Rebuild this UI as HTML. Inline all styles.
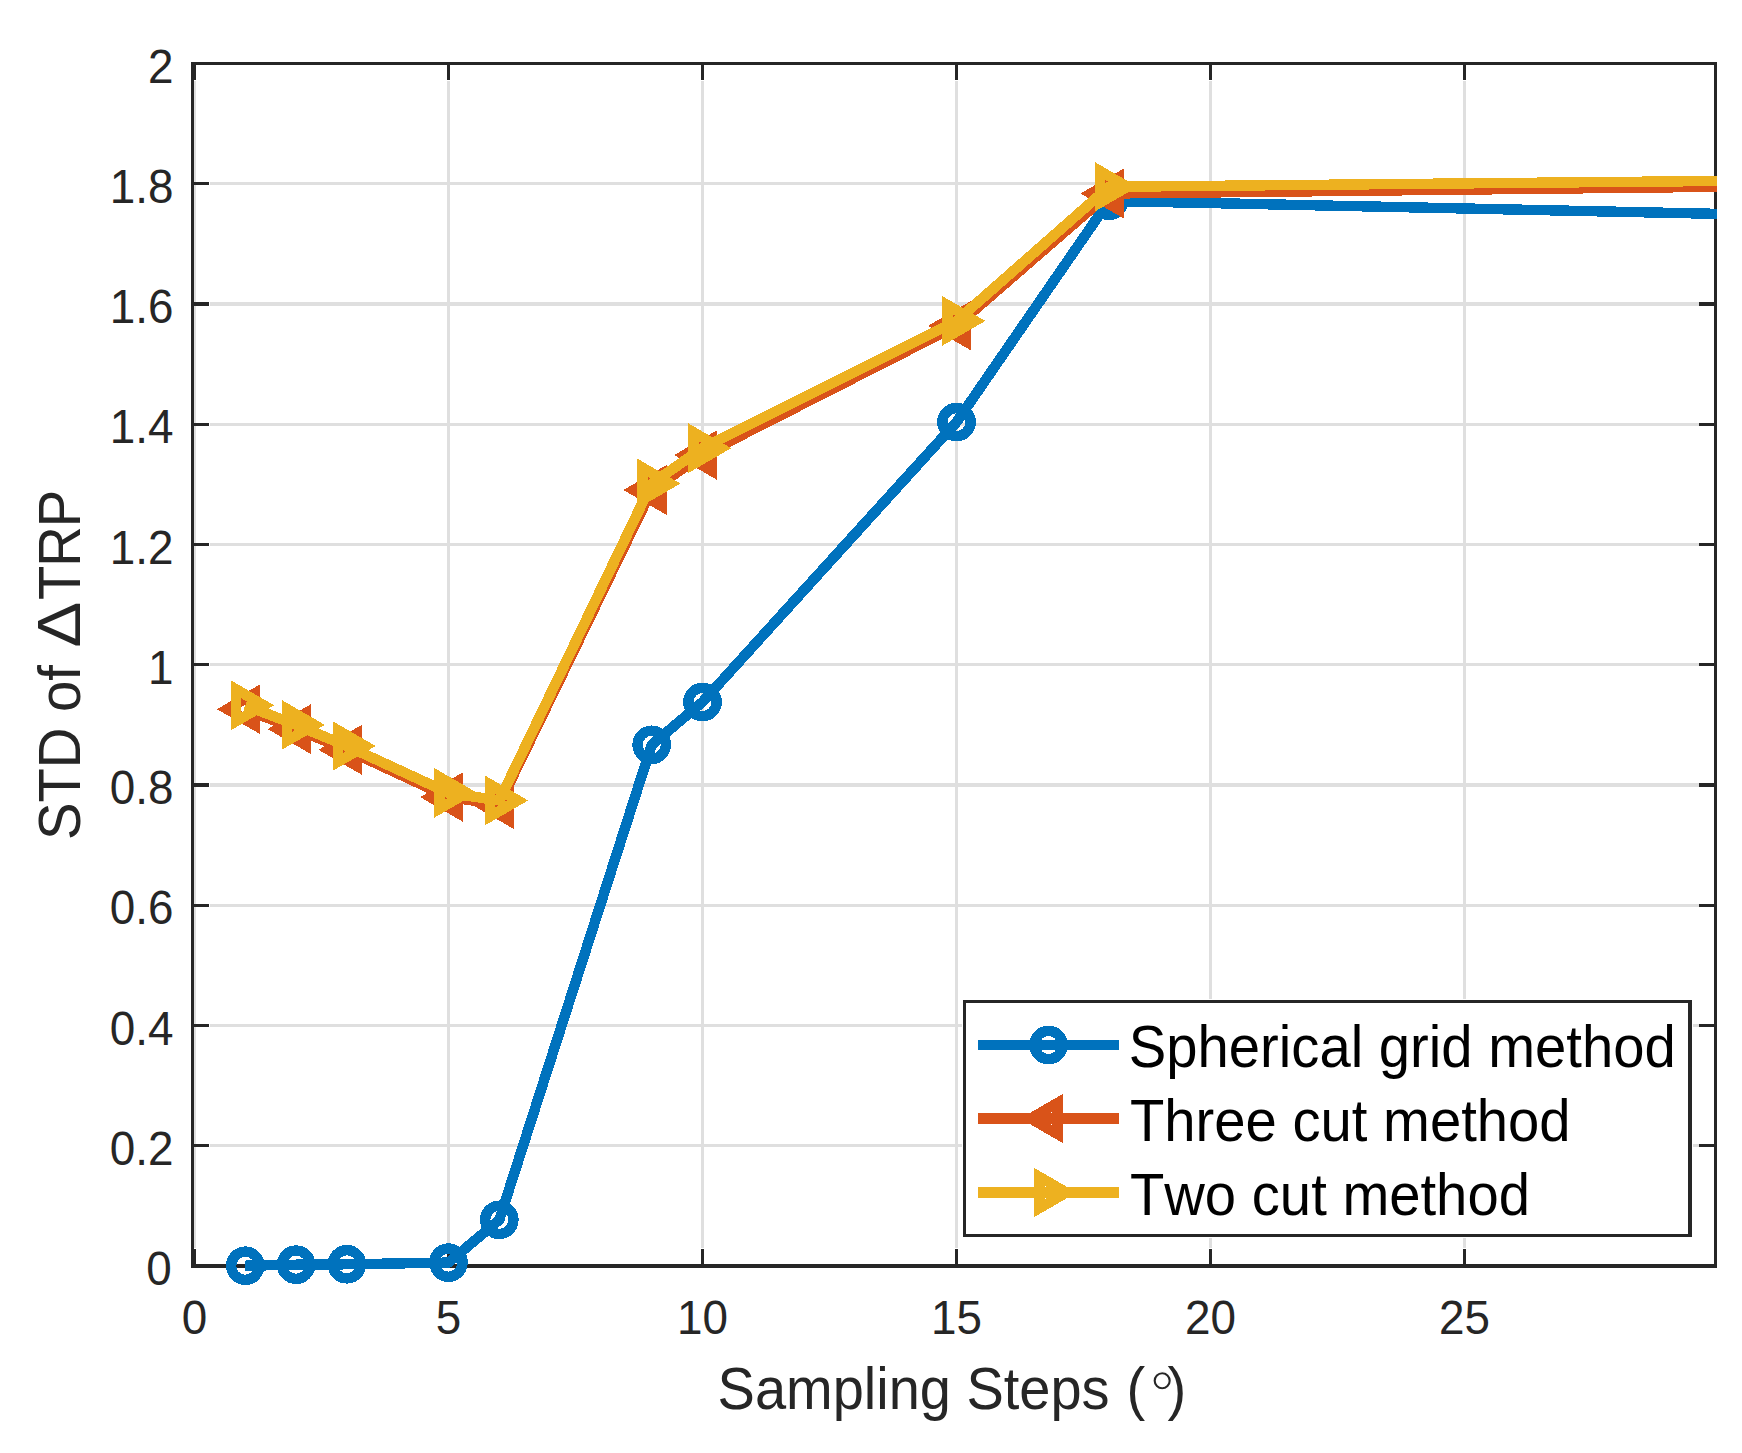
<!DOCTYPE html>
<html lang="en"><head><meta charset="utf-8"><title>STD of ΔTRP vs Sampling Steps</title>
<style>html,body{margin:0;padding:0;background:#fff}body{width:1742px;height:1453px;overflow:hidden}svg{display:block}text{font-family:"Liberation Sans",sans-serif;font-kerning:none}</style></head><body>
<svg width="1742" height="1453" viewBox="0 0 1742 1453">
<rect x="0" y="0" width="1742" height="1453" fill="#ffffff"/>
<defs><clipPath id="cp"><rect x="191" y="62" width="1526" height="1210"/></clipPath></defs>
<g fill="#dfdfdf" shape-rendering="crispEdges"><rect x="193" y="81" width="3" height="1167"/><rect x="447" y="81" width="3" height="1167"/><rect x="701" y="81" width="3" height="1167"/><rect x="955" y="81" width="3" height="1167"/><rect x="1209" y="81" width="3" height="1167"/><rect x="1463" y="81" width="3" height="1167"/><rect x="210" y="1144" width="1489" height="3"/><rect x="210" y="1024" width="1489" height="3"/><rect x="210" y="904" width="1489" height="3"/><rect x="210" y="783" width="1489" height="4"/><rect x="210" y="663" width="1489" height="3"/><rect x="210" y="543" width="1489" height="3"/><rect x="210" y="423" width="1489" height="3"/><rect x="210" y="302" width="1489" height="4"/><rect x="210" y="182" width="1489" height="3"/></g>
<g fill="#262626" shape-rendering="crispEdges"><rect x="193" y="65" width="3" height="15"/><rect x="193" y="1249" width="3" height="15"/><rect x="447" y="65" width="3" height="15"/><rect x="447" y="1249" width="3" height="15"/><rect x="701" y="65" width="3" height="15"/><rect x="701" y="1249" width="3" height="15"/><rect x="955" y="65" width="3" height="15"/><rect x="955" y="1249" width="3" height="15"/><rect x="1209" y="65" width="3" height="15"/><rect x="1209" y="1249" width="3" height="15"/><rect x="1463" y="65" width="3" height="15"/><rect x="1463" y="1249" width="3" height="15"/><rect x="194" y="1144" width="15" height="3"/><rect x="1699" y="1144" width="15" height="3"/><rect x="194" y="1024" width="15" height="3"/><rect x="1699" y="1024" width="15" height="3"/><rect x="194" y="904" width="15" height="3"/><rect x="1699" y="904" width="15" height="3"/><rect x="194" y="783" width="15" height="4"/><rect x="1699" y="783" width="15" height="4"/><rect x="194" y="663" width="15" height="3"/><rect x="1699" y="663" width="15" height="3"/><rect x="194" y="543" width="15" height="3"/><rect x="1699" y="543" width="15" height="3"/><rect x="194" y="423" width="15" height="3"/><rect x="1699" y="423" width="15" height="3"/><rect x="194" y="302" width="15" height="4"/><rect x="1699" y="302" width="15" height="4"/><rect x="194" y="182" width="15" height="3"/><rect x="1699" y="182" width="15" height="3"/><rect x="191" y="62" width="3" height="1206"/><rect x="1714" y="62" width="3" height="1206"/><rect x="191" y="62" width="1526" height="3"/><rect x="191" y="1264" width="1526" height="4"/></g>
<g font-size="45.83" fill="#262626"><text transform="translate(194.50 1334.2) scale(1 1.04)" text-anchor="middle">0</text><text transform="translate(448.50 1334.2) scale(1 1.04)" text-anchor="middle">5</text><text transform="translate(702.50 1334.2) scale(1 1.04)" text-anchor="middle">10</text><text transform="translate(956.50 1334.2) scale(1 1.04)" text-anchor="middle">15</text><text transform="translate(1210.50 1334.2) scale(1 1.04)" text-anchor="middle">20</text><text transform="translate(1464.50 1334.2) scale(1 1.04)" text-anchor="middle">25</text><text transform="translate(171.8 1285.05) scale(1 1.04)" text-anchor="end">0</text><text transform="translate(173.4 1164.80) scale(1 1.04)" text-anchor="end">0.2</text><text transform="translate(173.4 1044.55) scale(1 1.04)" text-anchor="end">0.4</text><text transform="translate(173.4 924.30) scale(1 1.04)" text-anchor="end">0.6</text><text transform="translate(173.4 804.05) scale(1 1.04)" text-anchor="end">0.8</text><text transform="translate(173.4 683.80) scale(1 1.04)" text-anchor="end">1</text><text transform="translate(173.4 563.55) scale(1 1.04)" text-anchor="end">1.2</text><text transform="translate(173.4 443.30) scale(1 1.04)" text-anchor="end">1.4</text><text transform="translate(173.4 323.05) scale(1 1.04)" text-anchor="end">1.6</text><text transform="translate(173.4 202.80) scale(1 1.04)" text-anchor="end">1.8</text><text transform="translate(173.4 82.55) scale(1 1.04)" text-anchor="end">2</text></g>
<g transform="translate(717.6 1408.9)" font-size="56.25" fill="#262626"><text transform="scale(0.995 1.055)">Sampling Steps</text><text transform="translate(408.9 0) scale(1 1.055)">(</text><text x="431.3" y="9.2" font-size="66" stroke="#ffffff" stroke-width="1.3" paint-order="fill stroke">°</text><text transform="translate(449.9 0) scale(1 1.055)">)</text></g>
<g transform="translate(80.3 840.1) rotate(-90)" font-size="56.25" fill="#262626"><text transform="scale(1 1.055)">STD of</text><text transform="translate(192.5 0) scale(1.216 1.085)">Δ</text><text transform="translate(240 0) scale(1 1.055)" letter-spacing="-1">TRP</text></g>
<g shape-rendering="crispEdges">
<polyline clip-path="url(#cp)" points="245.30,1265.72 296.10,1264.70 346.90,1264.28 448.50,1262.59 499.30,1219.83 651.70,744.82 702.50,701.99 956.50,422.12 1108.90,200.94 1718.50,213.88" fill="none" stroke="#0072bd" stroke-width="10.4" stroke-linejoin="round"/>
<circle cx="245.30" cy="1265.72" r="14.15" fill="none" stroke="#0072bd" stroke-width="10.4"/>
<circle cx="296.10" cy="1264.70" r="14.15" fill="none" stroke="#0072bd" stroke-width="10.4"/>
<circle cx="346.90" cy="1264.28" r="14.15" fill="none" stroke="#0072bd" stroke-width="10.4"/>
<circle cx="448.50" cy="1262.59" r="14.15" fill="none" stroke="#0072bd" stroke-width="10.4"/>
<circle cx="499.30" cy="1219.83" r="14.15" fill="none" stroke="#0072bd" stroke-width="10.4"/>
<circle cx="651.70" cy="744.82" r="14.15" fill="none" stroke="#0072bd" stroke-width="10.4"/>
<circle cx="702.50" cy="701.99" r="14.15" fill="none" stroke="#0072bd" stroke-width="10.4"/>
<circle cx="956.50" cy="422.12" r="14.15" fill="none" stroke="#0072bd" stroke-width="10.4"/>
<circle cx="1108.90" cy="200.94" r="14.15" fill="none" stroke="#0072bd" stroke-width="10.4"/>
<polyline clip-path="url(#cp)" points="245.30,709.21 296.10,729.12 346.90,749.81 448.50,797.09 499.30,804.25 651.70,489.97 702.50,455.08 956.50,325.76 1108.90,193.55 1718.50,186.81" fill="none" stroke="#d95319" stroke-width="10.4" stroke-linejoin="round"/>
<polygon points="254.90,693.28 254.90,725.14 227.30,709.21" fill="none" stroke="#d95319" stroke-width="10.4" stroke-linejoin="miter" stroke-miterlimit="10"/>
<polygon points="305.70,713.19 305.70,745.05 278.10,729.12" fill="none" stroke="#d95319" stroke-width="10.4" stroke-linejoin="miter" stroke-miterlimit="10"/>
<polygon points="356.50,733.88 356.50,765.74 328.90,749.81" fill="none" stroke="#d95319" stroke-width="10.4" stroke-linejoin="miter" stroke-miterlimit="10"/>
<polygon points="458.10,781.16 458.10,813.02 430.50,797.09" fill="none" stroke="#d95319" stroke-width="10.4" stroke-linejoin="miter" stroke-miterlimit="10"/>
<polygon points="508.90,788.32 508.90,820.18 481.30,804.25" fill="none" stroke="#d95319" stroke-width="10.4" stroke-linejoin="miter" stroke-miterlimit="10"/>
<polygon points="661.30,474.04 661.30,505.90 633.70,489.97" fill="none" stroke="#d95319" stroke-width="10.4" stroke-linejoin="miter" stroke-miterlimit="10"/>
<polygon points="712.10,439.15 712.10,471.01 684.50,455.08" fill="none" stroke="#d95319" stroke-width="10.4" stroke-linejoin="miter" stroke-miterlimit="10"/>
<polygon points="966.10,309.83 966.10,341.69 938.50,325.76" fill="none" stroke="#d95319" stroke-width="10.4" stroke-linejoin="miter" stroke-miterlimit="10"/>
<polygon points="1118.50,177.62 1118.50,209.48 1090.90,193.55" fill="none" stroke="#d95319" stroke-width="10.4" stroke-linejoin="miter" stroke-miterlimit="10"/>
<polyline clip-path="url(#cp)" points="245.30,705.30 296.10,724.91 346.90,746.02 448.50,792.88 499.30,800.46 651.70,483.59 702.50,448.16 956.50,320.94 1108.90,186.81 1718.50,180.97" fill="none" stroke="#edb120" stroke-width="10.4" stroke-linejoin="round"/>
<polygon points="236.10,689.37 236.10,721.23 263.70,705.30" fill="none" stroke="#edb120" stroke-width="10.4" stroke-linejoin="miter" stroke-miterlimit="10"/>
<polygon points="286.90,708.98 286.90,740.84 314.50,724.91" fill="none" stroke="#edb120" stroke-width="10.4" stroke-linejoin="miter" stroke-miterlimit="10"/>
<polygon points="337.70,730.09 337.70,761.95 365.30,746.02" fill="none" stroke="#edb120" stroke-width="10.4" stroke-linejoin="miter" stroke-miterlimit="10"/>
<polygon points="439.30,776.95 439.30,808.81 466.90,792.88" fill="none" stroke="#edb120" stroke-width="10.4" stroke-linejoin="miter" stroke-miterlimit="10"/>
<polygon points="490.10,784.53 490.10,816.39 517.70,800.46" fill="none" stroke="#edb120" stroke-width="10.4" stroke-linejoin="miter" stroke-miterlimit="10"/>
<polygon points="642.50,467.66 642.50,499.52 670.10,483.59" fill="none" stroke="#edb120" stroke-width="10.4" stroke-linejoin="miter" stroke-miterlimit="10"/>
<polygon points="693.30,432.23 693.30,464.09 720.90,448.16" fill="none" stroke="#edb120" stroke-width="10.4" stroke-linejoin="miter" stroke-miterlimit="10"/>
<polygon points="947.30,305.01 947.30,336.87 974.90,320.94" fill="none" stroke="#edb120" stroke-width="10.4" stroke-linejoin="miter" stroke-miterlimit="10"/>
<polygon points="1099.70,170.88 1099.70,202.74 1127.30,186.81" fill="none" stroke="#edb120" stroke-width="10.4" stroke-linejoin="miter" stroke-miterlimit="10"/>
</g>
<g shape-rendering="crispEdges"><rect x="962" y="999" width="731" height="239" fill="#ffffff"/><g fill="#262626"><rect x="963" y="1000" width="729" height="3"/><rect x="963" y="1234" width="729" height="3"/><rect x="963" y="1000" width="3" height="237"/><rect x="1688" y="1000" width="4" height="237"/></g></g>
<g shape-rendering="crispEdges">
<line x1="978" y1="1045.00" x2="1119" y2="1045.00" stroke="#0072bd" stroke-width="10.4"/>
<circle cx="1048.50" cy="1045.00" r="14.15" fill="none" stroke="#0072bd" stroke-width="10.4"/>
<text transform="translate(1128.8 1067.30) scale(1 1.055)" font-size="56.25" fill="#000000">Spherical grid method</text>
<line x1="978" y1="1118.50" x2="1119" y2="1118.50" stroke="#d95319" stroke-width="10.4"/>
<polygon points="1057.44,1103.01 1057.44,1133.99 1030.62,1118.50" fill="none" stroke="#d95319" stroke-width="10.4" stroke-linejoin="miter" stroke-miterlimit="10"/>
<text transform="translate(1129.9 1141.30) scale(1 1.055)" font-size="56.25" fill="#000000">Three cut method</text>
<line x1="978" y1="1192.50" x2="1119" y2="1192.50" stroke="#edb120" stroke-width="10.4"/>
<polygon points="1039.56,1177.01 1039.56,1207.99 1066.38,1192.50" fill="none" stroke="#edb120" stroke-width="10.4" stroke-linejoin="miter" stroke-miterlimit="10"/>
<text transform="translate(1129.9 1215.10) scale(1 1.055)" font-size="56.25" fill="#000000">Two cut method</text>
</g>
</svg></body></html>
